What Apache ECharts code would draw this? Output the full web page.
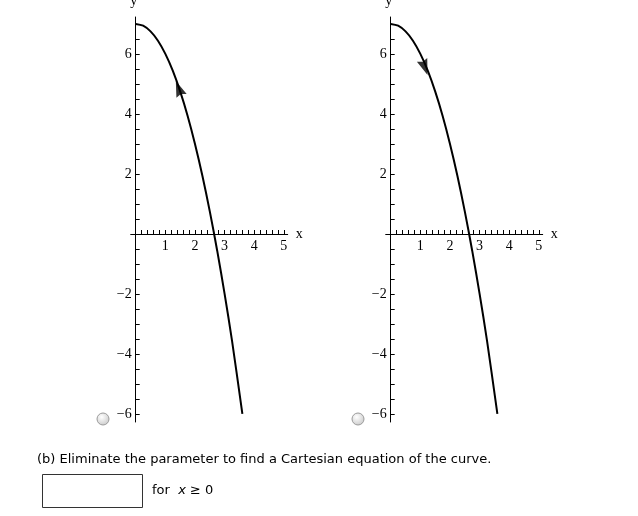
<!DOCTYPE html>
<html><head><meta charset="utf-8">
<script src="https://cdn.jsdelivr.net/npm/echarts@6/dist/echarts.min.js"></script>
<style>html,body{margin:0;padding:0;background:#fff}#c{width:638px;height:516px}</style>
</head><body><div id="c"></div>
<script>
// Curve points (same curve on both panels)
const curveX = [0, 0.25, 0.5, 0.75, 1, 1.25, 1.5, 1.75, 2, 2.25, 2.5, 2.75, 3, 3.25, 3.6];
const curveY = [7, 6.94, 6.75, 6.44, 6, 5.44, 4.75, 3.94, 3, 1.94, 0.75, -0.56, -2, -3.56, -6];
// Arrowhead positions (data coords)
const arrowLeft = [1.45, 4.85];
const arrowRight = [1.15, 5.55];
// Tick labels and tick positions
const xTickLabels = [1, 2, 3, 4, 5];
const yTickLabels = [-6, -4, -2, 2, 4, 6];
const xTicks = [0.2,0.4,0.6,0.8,1,1.2,1.4,1.6,1.8,2,2.2,2.4,2.6,2.8,3,3.2,3.4,3.6,3.8,4,4.2,4.4,4.6,4.8,5];
const yTicks = [-6,-5.5,-5,-4.5,-4,-3.5,-3,-2.5,-2,-1.5,-1,-0.5,0.5,1,1.5,2,2.5,3,3.5,4,4.5,5,5.5,6,6.5,7];

const serif = '"Liberation Serif", "DejaVu Serif", serif';
const sans = '"DejaVu Sans", Verdana, sans-serif';
const Y0PX = 234, GRID_BOTTOM = 422, GRID_TOP = 17;

function mkX(gi) {
  return {
    type: 'value', gridIndex: gi, min: -0.17, max: 5.13, position: 'bottom',
    offset: -(GRID_BOTTOM - Y0PX),
    name: 'x', nameLocation: 'end', nameGap: 8,
    nameTextStyle: { fontFamily: serif, fontSize: 14, color: '#000', verticalAlign: 'middle' },
    splitLine: { show: false },
    axisLine: { onZero: false, lineStyle: { color: '#000', width: 1 } },
    axisTick: { inside: true, length: 4, customValues: xTicks, lineStyle: { color: '#000' } },
    axisLabel: { customValues: xTickLabels, margin: 5, fontFamily: serif, fontSize: 14, color: '#000' }
  };
}
function mkY(gi) {
  return {
    type: 'value', gridIndex: gi, min: -6.27, max: 7.23, position: 'left', offset: -5,
    name: 'y', nameLocation: 'end', nameGap: 9,
    nameTextStyle: { fontFamily: serif, fontSize: 14, color: '#000', padding: [0, 4, 0, 0] },
    splitLine: { show: false },
    axisLine: { onZero: false, lineStyle: { color: '#000', width: 1 } },
    axisTick: { inside: true, length: 4, customValues: yTicks, lineStyle: { color: '#000' } },
    axisLabel: { customValues: yTickLabels, margin: 4, fontFamily: serif, fontSize: 14, color: '#000',
      formatter: v => String(v).replace('-', '\u2212') }
  };
}
const pts = curveX.map((x, i) => [x, curveY[i]]);
function curve(gi) {
  return { type: 'line', xAxisIndex: gi, yAxisIndex: gi, data: pts, showSymbol: false, smooth: 0.3,
    silent: true, lineStyle: { color: '#000', width: 2 }, z: 3 };
}
function arrow(gi, p, rot) {
  return { type: 'scatter', xAxisIndex: gi, yAxisIndex: gi, data: [p],
    symbol: 'path://M5,0 L10,16 L5,14 L0,16 Z',
    symbolSize: [11, 16], symbolRotate: rot, silent: true, itemStyle: { color: '#000' }, z: 4 };
}
function radio(cx, cy) {
  return { type: 'circle', shape: { cx, cy, r: 6 }, style: {
    fill: new echarts.graphic.RadialGradient(0.4, 0.35, 0.7, [{ offset: 0, color: '#ffffff' }, { offset: 1, color: '#c8c8c8' }]),
    stroke: '#9a9a9a', lineWidth: 1 } };
}
const chart = echarts.init(document.getElementById('c'), null, { renderer: 'canvas' });
chart.setOption({
  animation: false,
  grid: [
    { left: 130.7, top: GRID_TOP, width: 157, height: GRID_BOTTOM - GRID_TOP, containLabel: false, outerBoundsMode: 'none' },
    { left: 385.7, top: GRID_TOP, width: 157, height: GRID_BOTTOM - GRID_TOP, containLabel: false, outerBoundsMode: 'none' }
  ],
  xAxis: [mkX(0), mkX(1)],
  yAxis: [mkY(0), mkY(1)],
  series: [curve(0), curve(1), arrow(0, arrowLeft, 21), arrow(1, arrowRight, 200)],
  graphic: [
    radio(103, 419), radio(358, 419),
    { type: 'text', style: { text: '(b) Eliminate the parameter to find a Cartesian equation of the curve.',
      x: 37, y: 460, verticalAlign: 'middle', font: '13px ' + sans, fill: '#000' } },
    { type: 'rect', shape: { x: 42.5, y: 474.5, width: 100, height: 33 }, style: { fill: '#fff', stroke: '#333', lineWidth: 1 } },
    { type: 'text', style: { text: '{a|for  }{b|x}{a| \u2265 0}', x: 152, y: 491, verticalAlign: 'middle',
      rich: { a: { fontFamily: sans, fontSize: 13, fill: '#000' }, b: { fontFamily: sans, fontSize: 13, fontStyle: 'italic', fill: '#000' } } } }
  ]
});
</script></body></html>
